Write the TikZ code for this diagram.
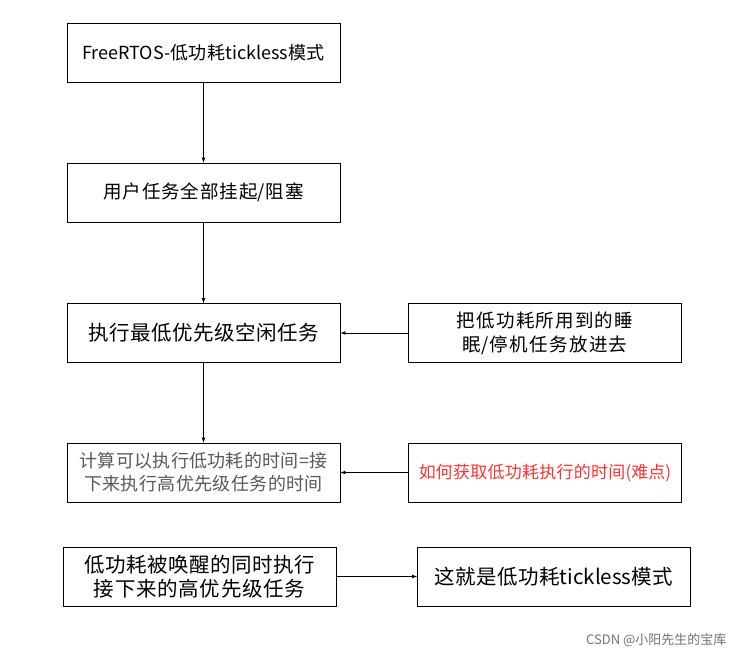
\documentclass[tikz,border=0pt]{standalone}
\usepackage{fontspec}
\setmainfont{Noto Sans CJK SC}
\XeTeXlinebreaklocale "zh"
\XeTeXlinebreakskip=0pt plus 1pt
\begin{document}
\begin{tikzpicture}[x=1pt,y=-1pt,
  box/.style={draw,line width=0.8pt,minimum width=273pt,minimum height=59pt,text width=268pt,align=center,inner sep=2pt},
  arr/.style={-latex,line width=0.7pt}]
\useasboundingbox[fill=white] (0,0) rectangle (743,657);
\node[box,font=\fontsize{18}{22}\selectfont] (a) at (203.5,53) {FreeRTOS-低功耗tickless模式};
\node[box,font=\fontsize{18.5}{22}\selectfont] (b) at (203.5,192.5) {用户任务全部挂起/阻塞};
\node[box,font=\fontsize{20.5}{24}\selectfont] (c) at (203.5,333) {执行最低优先级空闲任务};
\node[box,font=\fontsize{18.5}{24}\selectfont] (cr) at (545,333) {把低功耗所用到的睡眠/停机任务放进去};
\node[box,text=black!65,font=\fontsize{18}{23}\selectfont] (d) at (203.5,472.5) {计算可以执行低功耗的时间=接下来执行高优先级任务的时间};
\node[box,text={rgb,255:red,255;green,51;blue,51},font=\fontsize{17}{20}\selectfont] (dr) at (545,472.5) {如何获取低功耗执行的时间(难点)};
\node[box,font=\fontsize{20.5}{24}\selectfont] (e) at (199.5,576.5) {低功耗被唤醒的同时执行接下来的高优先级任务};
\node[box,font=\fontsize{20.5}{24}\selectfont] (er) at (554,576.5) {这就是低功耗tickless模式};
\draw[arr] (a) -- (b);
\draw[arr] (b) -- (c);
\draw[arr] (c) -- (d);
\draw[arr] (cr) -- (c);
\draw[arr] (dr) -- (d);
\draw[arr] (e) -- (er);
\node[text=black!55,font=\fontsize{13}{15}\selectfont,anchor=east] (w) at (730,640) {CSDN @小阳先生的宝库};
\end{tikzpicture}
\end{document}
